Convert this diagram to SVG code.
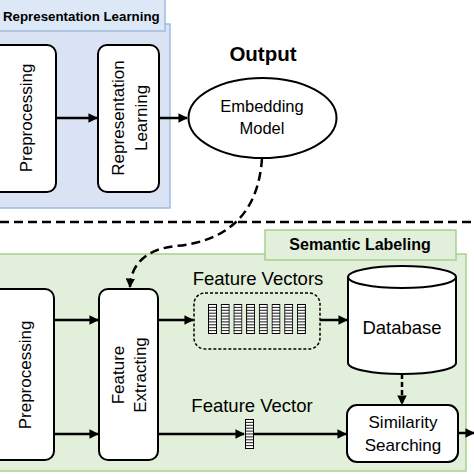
<svg xmlns="http://www.w3.org/2000/svg" xmlns:xlink="http://www.w3.org/1999/xlink" width="474" height="474" viewBox="0 0 474 474">
<style>
.txt{font-family:"Liberation Sans",Arial,sans-serif;fill:#000}
.b{font-weight:bold}
.node{fill:#fff;stroke:#000;stroke-width:2}
.conn{fill:none;stroke:#000;stroke-width:2.5}
.dash{stroke-dasharray:9,5}
</style>
<defs>
<marker id="ah" viewBox="0 0 10 10" refX="9" refY="5" markerWidth="3.8" markerHeight="3.8" orient="auto" markerUnits="strokeWidth">
<path d="M0,0 L10,5 L0,10 z" fill="#000"/>
</marker>
<symbol id="vec" viewBox="0 0 9 30" width="9" height="30">
<rect x="0.5" y="0.5" width="8" height="29" fill="#fff" stroke="#000" stroke-width="1"/>
<path d="M0.5,3.4H8.5M0.5,6.3H8.5M0.5,9.2H8.5M0.5,12.1H8.5M0.5,15H8.5M0.5,17.9H8.5M0.5,20.8H8.5M0.5,23.7H8.5M0.5,26.6H8.5" stroke="#000" stroke-width="0.9"/>
</symbol>
</defs>

<g id="representation-panel">
<rect x="-2" y="24" width="172" height="184" fill="#dae3f3" stroke="#9fbbe0" stroke-width="1.5"/>
<rect x="-2" y="-2" width="167" height="33" fill="#dde8f6" stroke="#9fbbe0" stroke-width="1.5"/>
<text class="txt b" x="3" y="21" font-size="13.3">Representation Learning</text>
</g>

<g id="semantic-panel">
<rect x="-2" y="254" width="468" height="217" fill="#e2efda" stroke="#a9d08e" stroke-width="1.5"/>
<rect x="265" y="230" width="191" height="30" fill="#e2efda" stroke="#a9d08e" stroke-width="1.5"/>
<text class="txt b" x="360" y="250" font-size="16" text-anchor="middle">Semantic Labeling</text>
</g>

<g id="preprocessing-top">
<rect class="node" x="-8" y="45" width="64" height="147" rx="9"/>
<text class="txt" transform="translate(32,118) rotate(-90)" font-size="17" text-anchor="middle">Preprocessing</text>
</g>

<g id="representation-learning">
<rect class="node" x="98" y="45" width="61" height="147" rx="9"/>
<text class="txt" transform="translate(124,118) rotate(-90)" font-size="17" text-anchor="middle">Representation</text>
<text class="txt" transform="translate(147,118) rotate(-90)" font-size="17" text-anchor="middle">Learning</text>
</g>

<g id="output-label">
<text class="txt b" x="263" y="61" font-size="20.5" text-anchor="middle">Output</text>
</g>

<g id="embedding-model">
<ellipse class="node" cx="262.5" cy="118" rx="74" ry="40"/>
<text class="txt" x="262" y="112" font-size="16.5" text-anchor="middle">Embedding</text>
<text class="txt" x="262" y="134" font-size="16.5" text-anchor="middle">Model</text>
</g>

<g id="preprocessing-bottom">
<rect class="node" x="-8" y="289" width="62" height="171" rx="9"/>
<text class="txt" transform="translate(31,375) rotate(-90)" font-size="17" text-anchor="middle">Preprocessing</text>
</g>

<g id="feature-extracting">
<rect class="node" x="99" y="289" width="59" height="171" rx="9"/>
<text class="txt" transform="translate(124,375) rotate(-90)" font-size="17" text-anchor="middle">Feature</text>
<text class="txt" transform="translate(146,375) rotate(-90)" font-size="17" text-anchor="middle">Extracting</text>
</g>

<g id="feature-vectors">
<text class="txt" x="258" y="285" font-size="18.5" text-anchor="middle">Feature Vectors</text>
<rect x="194" y="293" width="126" height="56" rx="11" fill="none" stroke="#000" stroke-width="1.5" stroke-dasharray="3,2"/>
<use xlink:href="#vec" x="208" y="304"/>
<use xlink:href="#vec" x="220.7" y="304"/>
<use xlink:href="#vec" x="233.4" y="304"/>
<use xlink:href="#vec" x="246.1" y="304"/>
<use xlink:href="#vec" x="258.8" y="304"/>
<use xlink:href="#vec" x="271.5" y="304"/>
<use xlink:href="#vec" x="284.2" y="304"/>
<use xlink:href="#vec" x="296.9" y="304"/>
</g>

<g id="database">
<path d="M348,277 L348,363 A54,11 0 0 0 456,363 L456,277" fill="#fff" stroke="#000" stroke-width="2"/>
<ellipse cx="402" cy="277" rx="54" ry="11" fill="#fff" stroke="#000" stroke-width="2"/>
<text class="txt" x="402" y="334" font-size="18.5" text-anchor="middle">Database</text>
</g>

<g id="feature-vector">
<text class="txt" x="252" y="412" font-size="18.5" text-anchor="middle">Feature Vector</text>
<use xlink:href="#vec" x="245" y="419"/>
</g>

<g id="similarity-searching">
<rect class="node" x="347" y="405" width="111" height="57" rx="10"/>
<text class="txt" x="403" y="428" font-size="17" text-anchor="middle">Similarity</text>
<text class="txt" x="403" y="451" font-size="17" text-anchor="middle">Searching</text>
</g>

<g id="connectors">
<line class="conn dash" x1="0" y1="222" x2="474" y2="222" stroke-width="3" stroke-dasharray="12,7"/>
<line class="conn" x1="56" y1="118" x2="97" y2="118" marker-end="url(#ah)"/>
<line class="conn" x1="159" y1="118" x2="187" y2="118" marker-end="url(#ah)"/>
<path class="conn dash" d="M262,158 C258,222 218,242 176,246 C146,249 131,264 130,287" marker-end="url(#ah)"/>
<line class="conn" x1="54" y1="320" x2="98" y2="320" marker-end="url(#ah)"/>
<line class="conn" x1="54" y1="434" x2="98" y2="434" marker-end="url(#ah)"/>
<line class="conn" x1="158" y1="320" x2="193" y2="320" marker-end="url(#ah)"/>
<line class="conn" x1="320" y1="320" x2="347" y2="320" marker-end="url(#ah)"/>
<line class="conn" x1="402" y1="374" x2="402" y2="404" stroke-dasharray="5,3" marker-end="url(#ah)"/>
<line class="conn" x1="158" y1="434" x2="244" y2="434" marker-end="url(#ah)"/>
<line class="conn" x1="254" y1="434" x2="346" y2="434" marker-end="url(#ah)"/>
<line class="conn" x1="458" y1="433" x2="474" y2="433" marker-end="url(#ah)"/>
</g>
</svg>
